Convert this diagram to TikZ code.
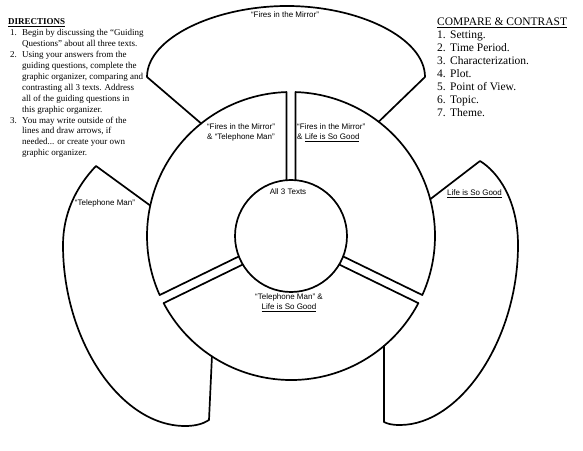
\documentclass[tikz,border=0pt]{standalone}
\usepackage{fontspec}
\setmainfont{Liberation Serif}
\newfontfamily\labelfont{Liberation Sans}
\definecolor{organizerline}{HTML}{000000}

\begin{document}
\begin{tikzpicture}[
  x=1pt,
  y=1pt,
  line join=round,
  line cap=round,
  outline/.style={draw=organizerline,line width=1.7pt},
  textlabel/.style={font=\labelfont\fontsize{8}{10}\selectfont,inner sep=0pt},
  notes/.style={inner sep=0pt,anchor=base west}
]
  \useasboundingbox (0,0) rectangle (583,450);

  % Centre of the organizer; inner circle r=56, ring r=144.
  \coordinate (C) at (291,214);
  \draw[outline] (C) circle[radius=56];

  % Ring pieces, cut apart by three narrow gaps.
  \begin{scope}[shift={(C)}]
    \draw[outline] (94.61:56) -- (91.79:144)
      arc[start angle=91.79,end angle=204.21,radius=144] -- (201.39:56);
    \draw[outline] (210.61:56) -- (207.79:144)
      arc[start angle=207.79,end angle=332.21,radius=144] -- (329.39:56);
    \draw[outline] (338.61:56) -- (335.79:144)
      arc[start angle=335.79,end angle=448.21,radius=144] -- (445.39:56);
    % Where the lobes meet the ring.
    \coordinate (topL) at (128.6:144);
    \coordinate (topR) at (52.5:144);
    \coordinate (leftT) at (167.8:144);
    \coordinate (leftB) at (236.7:144);
    \coordinate (rightT) at (14.8:144);
    \coordinate (rightB) at (310.2:144);
  \end{scope}

  % Outer lobes, one for each text.
  \draw[outline] (topL) -- (147,373)
    .. controls (147,412) and (215,444) .. (287,444)
    .. controls (359,444) and (425,412) .. (425,373) -- (topR);
  \draw[outline] (leftT) -- (96,284)
    .. controls (75,262) and (63,235) .. (63,205)
    .. controls (63,110) and (120,24) .. (185,24)
    .. controls (195,24) and (203,26) .. (209,30) -- (leftB);
  \draw[outline] (rightT) -- (480,289)
    .. controls (498,278) and (518,250) .. (518,205)
    .. controls (518,110) and (460,25) .. (400,25)
    .. controls (392,25) and (388,26) .. (384,28) -- (rightB);

  % Labels inside the organizer.
  \node[textlabel] (fires) at (285,435) {“Fires in the Mirror”};
  \node[textlabel] (phone) at (105,247) {“Telephone Man”};
  \node[textlabel] (life) at (474.5,256) {\underline{Life is So Good}};
  \node[textlabel,align=center] (firesphone) at (241,317.5)
    {“Fires in the Mirror”\\ \& “Telephone Man”};
  \node[textlabel,align=left,anchor=west] (fireslife) at (297,317.5)
    {“Fires in the Mirror”\\ \& \underline{Life is So Good}};
  \node[textlabel] (all) at (288,258) {All 3 Texts};
  \node[textlabel,align=center] (phonelife) at (289,147)
    {“Telephone Man” \&\\ \underline{Life is So Good}};

  % Side notes.
  \node[notes] (directions) at (8,425) {\fontsize{9}{10.9}\selectfont
    \begin{tabular}[t]{@{\hspace{2pt}}p{12pt}@{}l@{}}
      \multicolumn{2}{@{}l@{}}{\textbf{\underline{DIRECTIONS}}}\\
      1. & Begin by discussing the “Guiding\\
         & Questions” about all three texts.\\
      2. & Using your answers from the\\
         & guiding questions, complete the\\
         & graphic organizer, comparing and\\
         & contrasting all 3 texts. Address\\
         & all of the guiding questions in\\
         & this graphic organizer.\\
      3. & You may write outside of the\\
         & lines and draw arrows, if\\
         & needed... or create your own\\
         & graphic organizer.
    \end{tabular}};
  \node[notes] (compare) at (437,424) {\fontsize{11.5}{12.9}\selectfont
    \begin{tabular}[t]{@{}p{13pt}@{}l@{}}
      \multicolumn{2}{@{}l@{}}{\underline{COMPARE \& CONTRAST}}\\
      1. & Setting.\\
      2. & Time Period.\\
      3. & Characterization.\\
      4. & Plot.\\
      5. & Point of View.\\
      6. & Topic.\\
      7. & Theme.
    \end{tabular}};
\end{tikzpicture}
\end{document}
